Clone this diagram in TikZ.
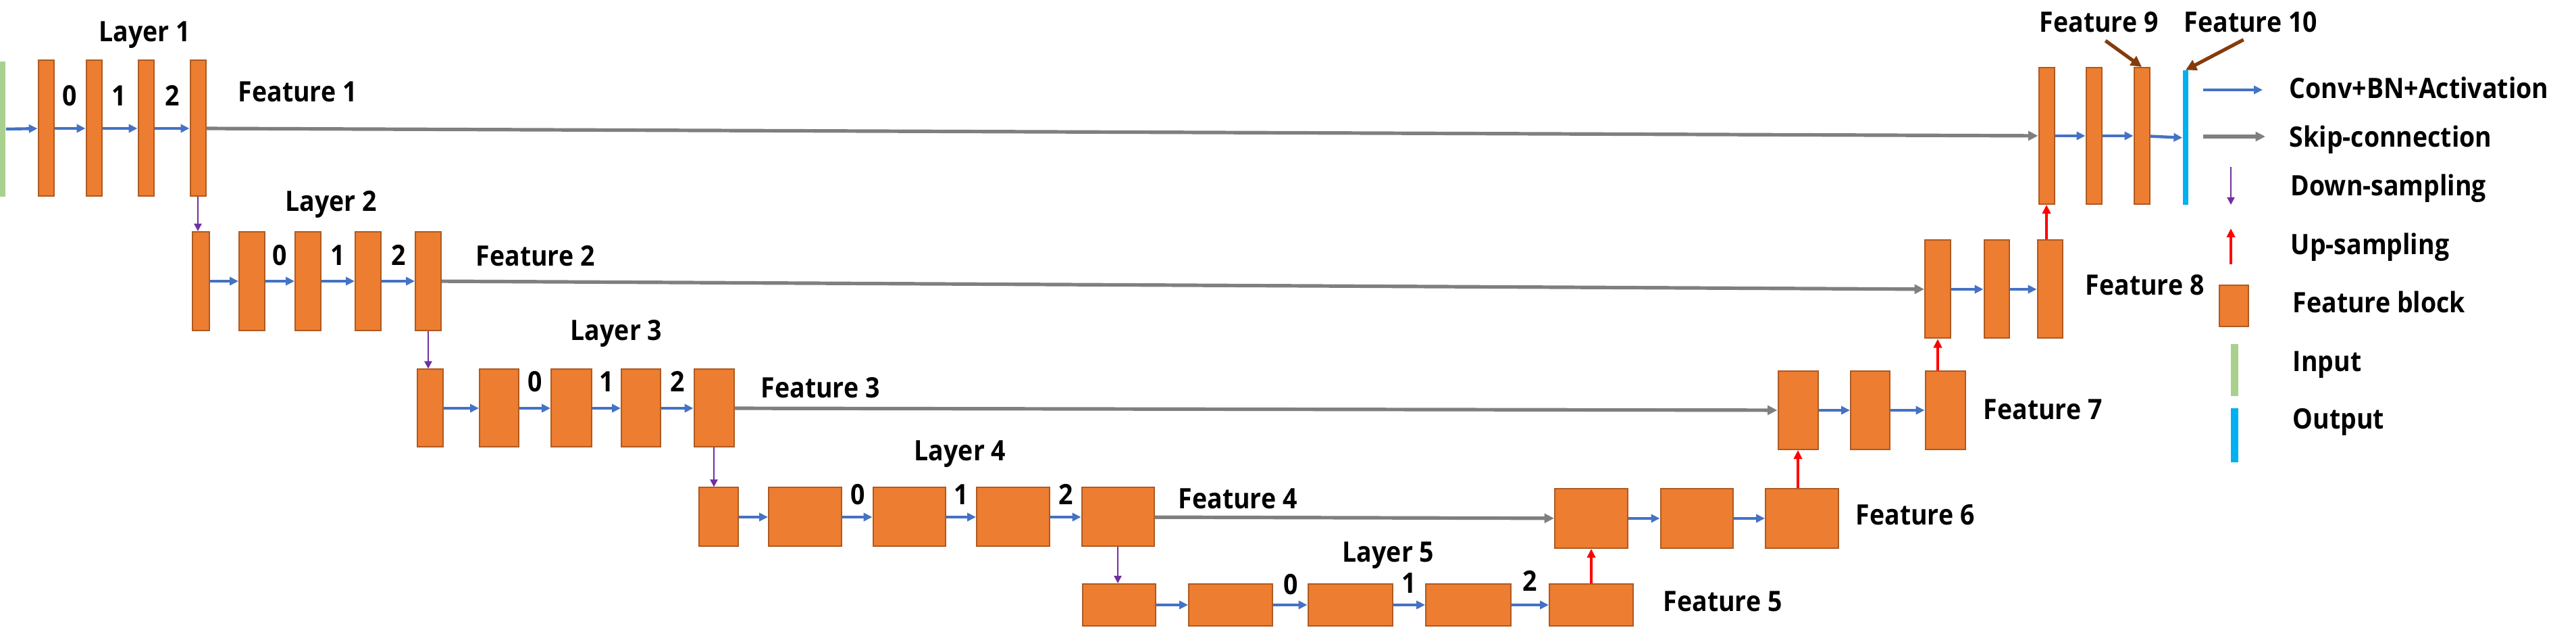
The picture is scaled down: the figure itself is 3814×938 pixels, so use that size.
\documentclass[tikz,border=0pt]{standalone}
\usepackage{fontspec}
\setmainfont{Open Sans}[FakeStretch=0.9]
\usetikzlibrary{arrows.meta}
\definecolor{blockfill}{HTML}{ED7D31}
\definecolor{blockedge}{HTML}{AE5A21}
\definecolor{convblue}{HTML}{4472C4}
\definecolor{skipgray}{HTML}{7F7F7F}
\definecolor{downpurple}{HTML}{7030A0}
\definecolor{uppred}{HTML}{FF0000}
\definecolor{pointbrown}{HTML}{843C0C}
\definecolor{inputgreen}{HTML}{A9D18E}
\definecolor{outputblue}{HTML}{00B0F0}
\tikzset{
  fblock/.style 2 args={draw=blockedge, fill=blockfill, line width=0.5pt, inner sep=0pt,
    minimum width=#1*0.25pt, minimum height=#2*0.25pt},
  bar/.style 2 args={fill=#1, inner sep=0pt, minimum width=#2*0.25pt},
  lbl/.style={font=\bfseries\fontsize{10.4}{12}\selectfont, inner sep=1pt},
  conv/.style={-{Triangle[length=3.2pt,width=3pt]}, line width=1.1pt, convblue},
  skip/.style={-{Triangle[length=3.6pt,width=3.4pt]}, line width=1.3pt, skipgray},
  down/.style={-{Triangle[length=2.8pt,width=2.8pt]}, line width=0.6pt, downpurple},
  up/.style={-{Triangle[length=3.3pt,width=3.1pt]}, line width=0.8pt, uppred},
  pointer/.style={-{Triangle[length=4pt,width=4pt]}, line width=1.3pt, pointbrown},
}
\begin{document}
\begin{tikzpicture}[x=0.25pt, y=-0.25pt]
\useasboundingbox (0,0) rectangle (3814,938);
% encoder
\node[bar={inputgreen}{8}, minimum height=200*0.25pt] (in) at (4,191) {};
\foreach \n/\x in {a/68,b/139,c/216,d/293}
    \node[fblock={23}{201}] (L1\n) at (\x,190) {};
\foreach \n/\x/\w in {a/297/25,b/373/38,c/456/38,d/545/38,e/634/38}
    \node[fblock={\w}{146}] (L2\n) at (\x,416) {};
\foreach \n/\x/\w in {a/637/38,b/739/58,c/846/60,d/949/58,e/1057/59}
    \node[fblock={\w}{115}] (L3\n) at (\x,604) {};
\foreach \n/\x/\w in {a/1064/58,b/1192/108,c/1346/107,d/1500/108,e/1655/107}
    \node[fblock={\w}{87}] (L4\n) at (\x,765) {};
\foreach \n/\x/\w in {a/1657/108,b/1822/124,c/1999/125,d/2174/126,e/2356/124}
    \node[fblock={\w}{62}] (L5\n) at (\x,895) {};
% decoder
\foreach \n/\x/\w in {a/2356/108,b/2512/107,c/2668/108}
    \node[fblock={\w}{88}] (D6\n) at (\x,767) {};
\foreach \n/\x/\w in {a/2662/59,b/2769/58,c/2880/59}
    \node[fblock={\w}{116}] (D7\n) at (\x,607) {};
\foreach \n/\x/\w in {a/2869/38,b/2956/37,c/3035/37}
    \node[fblock={\w}{145}] (D8\n) at (\x,428) {};
\foreach \n/\x in {a/3030,b/3100,c/3171}
    \node[fblock={23}{202}] (D9\n) at (\x,201) {};
\node[bar={outputblue}{8}, minimum height=199*0.25pt] (out) at (3236,204) {};
% connections
\foreach \a/\b in {in/L1a,L1a/L1b,L1b/L1c,L1c/L1d,
    L2a/L2b,L2b/L2c,L2c/L2d,L2d/L2e, L3a/L3b,L3b/L3c,L3c/L3d,L3d/L3e,
    L4a/L4b,L4b/L4c,L4c/L4d,L4d/L4e, L5a/L5b,L5b/L5c,L5c/L5d,L5d/L5e,
    D6a/D6b,D6b/D6c, D7a/D7b,D7b/D7c, D8a/D8b,D8b/D8c, D9a/D9b,D9b/D9c,D9c/out}
    \draw[conv] (\a) -- (\b);
\foreach \a/\b in {L1d/D9a,L2e/D8a,L3e/D7a,L4e/D6a}
    \draw[skip] (\a) -- (\b);
\foreach \a/\b in {L1d/L2a,L2e/L3a,L3e/L4a,L4e/L5a}
    \draw[down] (\a.south) -- (\a.south |- \b.north);
\draw[up] (L5e.north) -- (D6a.south);
\foreach \a/\b in {D6c/D7a,D7c/D8a,D8c/D9a}
    \draw[up] (\a.north -| \b) -- (\b.south);
% labels
\foreach \x/\y/\t [count=\i] in {142/62/Layer 1,418/313/Layer 2,840/504/Layer 3,
    1349/682/Layer 4,1983/832/Layer 5}
    \node[lbl, anchor=base west] (lay\i) at (\x,\y) {\t};
\foreach \x/\y/\t [count=\i] in {348/151/1,700/394/2,1122/589/3,1740/753/4,2458/905/5,
    2743/777/6,2932/621/7,3083/437/8}
    \node[lbl, anchor=base west] (f\i) at (\x,\y) {Feature \t};
\node[lbl, anchor=base west] (f9) at (3015,48) {Feature 9};
\node[lbl, anchor=base west] (f10) at (3229,48) {Feature 10};
\draw[pointer, shorten <=3pt] (f9.south) -- (D9c.north);
\draw[pointer, shorten <=3pt] (f10.south) -- (out.north);
\foreach \x/\y/\t [count=\i] in {103/157/0,176/157/1,255/157/2,
    414/393/0,500/393/1,590/393/2, 792/580/0,898/580/1,1003/580/2,
    1270/747/0,1423/747/1,1578/747/2, 1911/880/0,2086/878/1,2265/875/2}
    \node[lbl, anchor=base] (num\i) at (\x,\y) {\t};
% legend
\draw[conv] (3262,133) -- (3350,133);
\draw[skip] (3262,202) -- (3354,202);
\draw[down] (3303,247) -- (3303,303);
\draw[up] (3303,391) -- (3303,338);
\node[fblock={43}{61}] (kblock) at (3307,453) {};
\node[bar={inputgreen}{11}, minimum height=77*0.25pt] (kin) at (3308,548) {};
\node[bar={outputblue}{11}, minimum height=80*0.25pt] (kout) at (3308,644) {};
\node[lbl, anchor=base west] (kconv) at (3385,146) {Conv+BN+Activation};
\node[lbl, anchor=base west] (kskip) at (3385,218) {Skip-connection};
\node[lbl, anchor=base west] (kdown) at (3387,290) {Down-sampling};
\node[lbl, anchor=base west] (kup) at (3387,377) {Up-sampling};
\node[lbl, anchor=base west] (kfb) at (3390,463) {Feature block};
\node[lbl, anchor=base west] (kinp) at (3390,550) {Input};
\node[lbl, anchor=base west] (koutt) at (3390,635) {Output};
\end{tikzpicture}
\end{document}
